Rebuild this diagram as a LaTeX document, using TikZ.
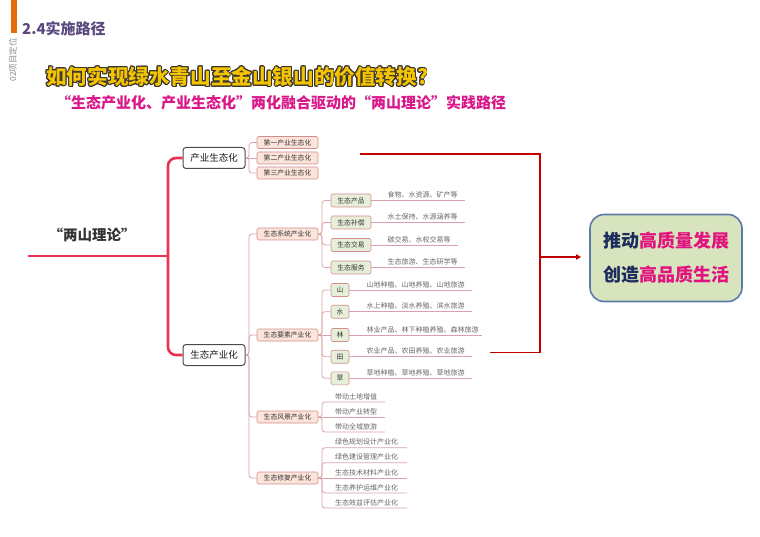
\documentclass[tikz,border=0pt]{standalone}
\usepackage{fontspec}
\setmainfont{Noto Sans CJK SC}
\usepackage{contour}
\usepackage{tikz}
\usetikzlibrary{positioning,arrows.meta}

\definecolor{barorange}{HTML}{E46C0A}
\definecolor{headpurple}{HTML}{5B4A80}
\definecolor{titleyellow}{HTML}{F5C400}
\definecolor{titledark}{HTML}{3A3530}
\definecolor{submagenta}{HTML}{D9168A}
\definecolor{rootred}{HTML}{E8344E}
\definecolor{rootgray}{HTML}{4A4A4A}
\definecolor{connrose}{HTML}{D8A3A8}
\definecolor{boxpink}{HTML}{FCE4DA}
\definecolor{boxgreen}{HTML}{E6EFDA}
\definecolor{boxline}{HTML}{D38E8E}
\definecolor{bracketred}{HTML}{C00000}
\definecolor{goalgreen}{HTML}{D7E4BD}
\definecolor{goalblue}{HTML}{5B7BAA}
\definecolor{goalnavy}{HTML}{1C2A5C}
\definecolor{goalpink}{HTML}{E2127F}

\tikzset{
  rootbox/.style={draw=rootgray, line width=1pt, rounded corners=3pt, fill=white, minimum width=62pt, minimum height=21pt, inner sep=1pt, font=\fontsize{9.5}{11}\selectfont, text=black!90},
  midbox/.style={draw=boxline, line width=0.6pt, rounded corners=1.5pt, fill=boxpink, minimum width=61pt, minimum height=12pt, inner sep=0.5pt, font=\fontsize{6.8}{8}\selectfont, text=black!80},
  leafbox/.style={midbox, fill=boxgreen, minimum width=40pt, minimum height=13pt},
  elembox/.style={leafbox, minimum width=18pt},
  note/.style={inner sep=1pt, font=\fontsize{7}{8}\selectfont, text=black!60},
  conn/.style={draw=connrose, line width=0.8pt, rounded corners=3pt},
  rootline/.style={draw=rootred, line width=2.6pt},
  bracket/.style={draw=bracketred, line width=1.8pt},
  goalbox/.style={draw=goalblue, line width=1.6pt, fill=goalgreen, rounded corners=14pt, minimum width=152pt, minimum height=87pt, align=center, font=\fontsize{18}{34}\selectfont\bfseries}
}

\begin{document}
\begin{tikzpicture}[x=1pt,y=-1pt]
\useasboundingbox (0,0) rectangle (760,537);
\fill[white] (0,0) rectangle (760,537);

% header
\fill[barorange] (10.5,0) rectangle (17,33);
\node[anchor=west, inner sep=0pt, text=headpurple, font=\fontsize{15}{17}\selectfont\bfseries] (head) at (22,29) {2.4实施路径};
\node[rotate=90, inner sep=0pt, text=black!45, font=\fontsize{8.5}{10}\selectfont] (side) at (13,60) {02项目定位};
\contourlength{0.9pt}
\node[anchor=west, inner sep=0pt, font=\fontsize{20.6}{24}\selectfont\bfseries] (title) at (46,77) {\textcolor{titleyellow}{\contour{titledark}{如何实现绿水青山至金山银山的价值转换?}}};
\node[anchor=west, inner sep=0pt, text=submagenta, font=\fontsize{15}{17}\selectfont\bfseries] (subtitle) at (56,103) {“生态产业化、产业生态化”两化融合驱动的“两山理论”实践路径};

% root
\node[inner sep=0pt, text=black!80, font=\fontsize{14.5}{17}\selectfont\bfseries] (lsll) at (92,235) {“两山理论”};
\coordinate (lsllL) at (28,256);
\coordinate (lsllR) at (168,256);
\node[rootbox] (cyst) at (214,158) {产业生态化};
\node[rootbox] (styc) at (214,355) {生态产业化};
\draw[rootline] (lsllL) -- (lsllR);
\draw[rootline, rounded corners=8pt] (cyst.west) -| (lsllR) |- (styc.west);

% 产业生态化
\coordinate (cystT) at (249,158);
\node[midbox] (dy) at (287.5,142.5) {第一产业生态化};
\node[midbox] (de) at (287.5,158) {第二产业生态化};
\node[midbox] (ds) at (287.5,173) {第三产业生态化};
\draw[conn] (cyst.east) -- (cystT) |- (dy.west);
\draw[conn] (cyst.east) -- (de.west);
\draw[conn] (cyst.east) -- (cystT) |- (ds.west);

% 生态产业化
\coordinate (stycT) at (249,355);
\node[midbox] (xt) at (287.5,234) {生态系统产业化};
\node[midbox] (ys) at (287.5,335) {生态要素产业化};
\node[midbox] (fj) at (287.5,417) {生态风景产业化};
\node[midbox] (xf) at (287.5,478) {生态修复产业化};
\draw[conn] (styc.east) -- (stycT) |- (xt.west);
\draw[conn] (styc.east) -- (stycT) |- (ys.west);
\draw[conn] (styc.east) -- (stycT) |- (fj.west);
\draw[conn] (styc.east) -- (stycT) |- (xf.west);

% 生态系统产业化
\coordinate (xtT) at (322,234);
\node[leafbox] (cp) at (351,200.5) {生态产品};
\node[leafbox] (bc) at (351,222.5) {生态补偿};
\node[leafbox] (jy) at (351,245) {生态交易};
\node[leafbox] (fw) at (351,267.5) {生态服务};
\draw[conn] (xt.east) -- (xtT) |- (cp.west);
\draw[conn] (xt.east) -- (xtT) |- (bc.west);
\draw[conn] (xt.east) -- (xtT) |- (jy.west);
\draw[conn] (xt.east) -- (xtT) |- (fw.west);
\coordinate (cpE) at (465,200.5);
\coordinate (bcE) at (465,222.5);
\coordinate (jyE) at (458,245);
\coordinate (fwE) at (465,267.5);
\draw[conn] (cp.east) -- (cpE);
\draw[conn] (bc.east) -- (bcE);
\draw[conn] (jy.east) -- (jyE);
\draw[conn] (fw.east) -- (fwE);
\node[note, above right=1pt and 15pt of cp.east] (cpT) {食物、水资源、矿产等};
\node[note, above right=1pt and 15pt of bc.east] (bcT) {水土保持、水源涵养等};
\node[note, above right=1pt and 15pt of jy.east] (jyT) {碳交易、水权交易等};
\node[note, above right=1pt and 15pt of fw.east] (fwT) {生态旅游、生态研学等};

% 生态要素产业化
\coordinate (ysT) at (322,335);
\node[elembox] (shan) at (340,290) {山};
\node[elembox] (shui) at (340,311.7) {水};
\node[elembox] (lin) at (340,335) {林};
\node[elembox] (tian) at (340,356.7) {田};
\node[elembox] (cao) at (340,378.3) {草};
\draw[conn] (ys.east) -- (ysT) |- (shan.west);
\draw[conn] (ys.east) -- (ysT) |- (shui.west);
\draw[conn] (ys.east) -- (lin.west);
\draw[conn] (ys.east) -- (ysT) |- (tian.west);
\draw[conn] (ys.east) -- (ysT) |- (cao.west);
\coordinate (shanE) at (472,290);
\coordinate (shuiE) at (472,311.7);
\coordinate (linE) at (482,335);
\coordinate (tianE) at (472,356.7);
\coordinate (caoE) at (472,378.3);
\draw[conn] (shan.east) -- (shanE);
\draw[conn] (shui.east) -- (shuiE);
\draw[conn] (lin.east) -- (linE);
\draw[conn] (tian.east) -- (tianE);
\draw[conn] (cao.east) -- (caoE);
\node[note, above right=1pt and 16pt of shan.east] (shanT) {山地种植、山地养殖、山地旅游};
\node[note, above right=1pt and 16pt of shui.east] (shuiT) {水上种植、淡水养殖、滨水旅游};
\node[note, above right=1pt and 16pt of lin.east] (linT) {林业产品、林下种植养殖、森林旅游};
\node[note, above right=1pt and 16pt of tian.east] (tianT) {农业产品、农田养殖、农业旅游};
\node[note, above right=1pt and 16pt of cao.east] (caoT) {草地种植、草地养殖、草地旅游};

% 生态风景产业化
\coordinate (fjT) at (322,417);
\coordinate (fj1E) at (385,402);
\coordinate (fj2E) at (385,417);
\coordinate (fj3E) at (385,432);
\draw[conn] (fj.east) -- (fjT) |- (fj1E);
\draw[conn] (fj.east) -- (fj2E);
\draw[conn] (fj.east) -- (fjT) |- (fj3E);
\node[note, anchor=south west] (fj1) at (334,401) {带动土地增值};
\node[note, anchor=south west] (fj2) at (334,416) {带动产业转型};
\node[note, anchor=south west] (fj3) at (334,431) {带动全域旅游};

% 生态修复产业化
\coordinate (xfT) at (322,478);
\coordinate (xf1E) at (407,447.7);
\coordinate (xf2E) at (407,462.7);
\coordinate (xf3E) at (407,478);
\coordinate (xf4E) at (407,493);
\coordinate (xf5E) at (407,508);
\draw[conn] (xf.east) -- (xfT) |- (xf1E);
\draw[conn] (xf.east) -- (xfT) |- (xf2E);
\draw[conn] (xf.east) -- (xf3E);
\draw[conn] (xf.east) -- (xfT) |- (xf4E);
\draw[conn] (xf.east) -- (xfT) |- (xf5E);
\node[note, anchor=south west] (xf1) at (334,446.7) {绿色规划设计产业化};
\node[note, anchor=south west] (xf2) at (334,461.7) {绿色建设管理产业化};
\node[note, anchor=south west] (xf3) at (334,477) {生态技术材料产业化};
\node[note, anchor=south west] (xf4) at (334,492) {生态养护运维产业化};
\node[note, anchor=south west] (xf5) at (334,507) {生态效益评估产业化};

% goal
\node[goalbox] (goal) at (666,258) {\textcolor{goalnavy}{推动}\textcolor{goalpink}{高质量发展}\\\textcolor{goalnavy}{创造}\textcolor{goalpink}{高品质生活}};
\coordinate (brTop) at (360,154);
\coordinate (brMid) at (540,257);
\coordinate (brBot) at (490,352.5);
\draw[bracket] (brTop) -| (brMid) |- (brBot);
\draw[bracket, -{Triangle[length=5pt,width=5pt]}, shorten >=8pt] (brMid) -- (goal.west |- brMid);
\end{tikzpicture}
\end{document}
